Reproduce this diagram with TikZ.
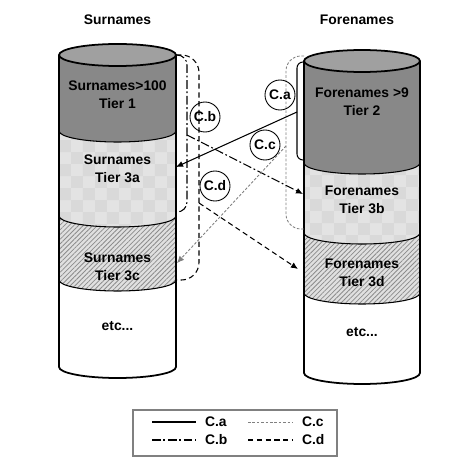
\documentclass[tikz,border=0pt]{standalone}
\usepackage{fontspec}
\setmainfont{Liberation Sans}
\usetikzlibrary{arrows.meta,patterns,patterns.meta}

\definecolor{tierdark}{HTML}{888888}
\definecolor{tierlid}{HTML}{A0A0A0}
\definecolor{chklight}{HTML}{E3E3E3}
\definecolor{chkdark}{HTML}{D9D9D9}
\definecolor{hatchbg}{HTML}{E0E0E0}

\pgfdeclarepatternformonly{chk}{\pgfpointorigin}{\pgfqpoint{13.6pt}{13.6pt}}{\pgfqpoint{13.6pt}{13.6pt}}{%
  \pgfpathrectangle{\pgfpointorigin}{\pgfqpoint{6.8pt}{6.8pt}}%
  \pgfpathrectangle{\pgfqpoint{6.8pt}{6.8pt}}{\pgfqpoint{6.8pt}{6.8pt}}%
  \pgfusepath{fill}}

\tikzset{
  lbl/.style={font=\fontsize{7.9}{10.2}\selectfont\bfseries, align=center, inner sep=1pt},
  tag/.style={lbl, draw, circle, minimum size=0.6cm, inner sep=0pt, line width=0.5pt},
  tier1/.style={fill=tierdark},
  tier3a/.style={fill=chklight, postaction={pattern=chk, pattern color=chkdark}},
  tier3c/.style={fill=hatchbg, postaction={pattern={Lines[angle=45, distance=1.9pt, line width=0.45pt]}, pattern color=gray!90}},
  ca/.style={line width=0.6pt},
  cb/.style={line width=0.6pt, dash pattern=on 5pt off 1.5pt on 1pt off 1.5pt},
  cc/.style={line width=0.5pt, gray, dash pattern=on 1.5pt off 1pt},
  cd/.style={line width=0.6pt, dash pattern=on 3pt off 2pt},
  arr/.style={-{Latex[length=4pt,width=3.5pt]}},
}

\begin{document}
\begin{tikzpicture}[x=0.02cm, y=0.02cm]
  \fill[white] (0,0) rectangle (474,474);
  \useasboundingbox (0,0) rectangle (474,474);

  % surnames cylinder
  \foreach \ya/\yb/\sty in {419/343/tier1, 343/258/tier3a, 258/194/tier3c}
    \path[\sty] (59,\ya) arc[start angle=180, end angle=360, x radius=58.5, y radius=11]
      -- (176,\yb) arc[start angle=0, end angle=-180, x radius=58.5, y radius=11] -- cycle;
  \draw[line width=1pt] (59,419) -- (59,107) arc[start angle=180, end angle=360, x radius=58.5, y radius=11] -- (176,419);
  \foreach \y in {343,258,194}
    \draw[line width=0.6pt] (59,\y) arc[start angle=180, end angle=360, x radius=58.5, y radius=11];
  \draw[line width=1pt, fill=tierlid] (117.5,419) ellipse[x radius=58.5, y radius=11];

  % forenames cylinder
  \foreach \ya/\yb/\sty in {413/311/tier1, 311/241/tier3a, 241/181/tier3c}
    \path[\sty] (304,\ya) arc[start angle=180, end angle=360, x radius=58, y radius=11]
      -- (420,\yb) arc[start angle=0, end angle=-180, x radius=58, y radius=11] -- cycle;
  \draw[line width=1pt] (304,413) -- (304,101) arc[start angle=180, end angle=360, x radius=58, y radius=11] -- (420,413);
  \foreach \y in {311,241,181}
    \draw[line width=0.6pt] (304,\y) arc[start angle=180, end angle=360, x radius=58, y radius=11];
  \draw[line width=1pt, fill=tierlid] (362,413) ellipse[x radius=58, y radius=11];

  \node[lbl] (sur) at (117.5,454) {Surnames};
  \node[lbl] (fore) at (357,454) {Forenames};
  \node[lbl] (s1) at (117.5,379) {Surnames>100\\Tier 1};
  \node[lbl] (s3a) at (117.5,305) {Surnames\\Tier 3a};
  \node[lbl] (s3c) at (117.5,207) {Surnames\\Tier 3c};
  \node[lbl] (setc) at (117.5,148) {etc...};
  \node[lbl] (f2) at (362,372.5) {Forenames >9\\Tier 2};
  \node[lbl] (f3b) at (362,274) {Forenames\\Tier 3b};
  \node[lbl] (f3d) at (362,201.5) {Forenames\\Tier 3d};
  \node[lbl] (fetc) at (362,142) {etc...};

  % brackets
  \draw[cb, rounded corners=0.2cm] (176,419) -| (187,262) -- (176,262);
  \draw[cd, rounded corners=0.35cm] (176,419) -| (199,194) -- (176,194);
  \draw[ca, rounded corners=0.12cm] (304,412) -| (297,314) -- (304,314);
  \draw[cc, rounded corners=0.3cm] (304,418) -| (286,245) -- (304,245);

  \coordinate (ca-out) at (297,362); \coordinate (ca-in) at (176,307);
  \coordinate (cb-out) at (187,339); \coordinate (cb-in) at (303,280);
  \coordinate (cc-out) at (286,328); \coordinate (cc-in) at (177,211);
  \coordinate (cd-out) at (199,271); \coordinate (cd-in) at (298,205);
  \draw[ca, arr] (ca-out) -- (ca-in);
  \draw[cb, arr] (cb-out) -- (cb-in);
  \draw[cc, arr] (cc-out) -- (cc-in);
  \draw[cd, arr] (cd-out) -- (cd-in);

  \node[tag] (ta) at (280,379) {C.a};
  \node[tag] (tb) at (205,357) {C.b};
  \node[tag] (tc) at (265,329) {C.c};
  \node[tag] (td) at (215,288) {C.d};

  % legend
  \draw[gray, line width=0.6pt] (133,18) rectangle (337,64);
  \node[lbl, anchor=west] (la) at (203,52) {C.a};
  \node[lbl, anchor=west] (lb) at (203,34) {C.b};
  \node[lbl, anchor=west] (lc) at (300,52) {C.c};
  \node[lbl, anchor=west] (ld) at (300,34) {C.d};
  \draw[ca] (152,52) -- (196,52);
  \draw[cb] (152,34) -- (196,34);
  \draw[cc] (248,52) -- (293,52);
  \draw[cd] (248,34) -- (293,34);
\end{tikzpicture}
\end{document}
